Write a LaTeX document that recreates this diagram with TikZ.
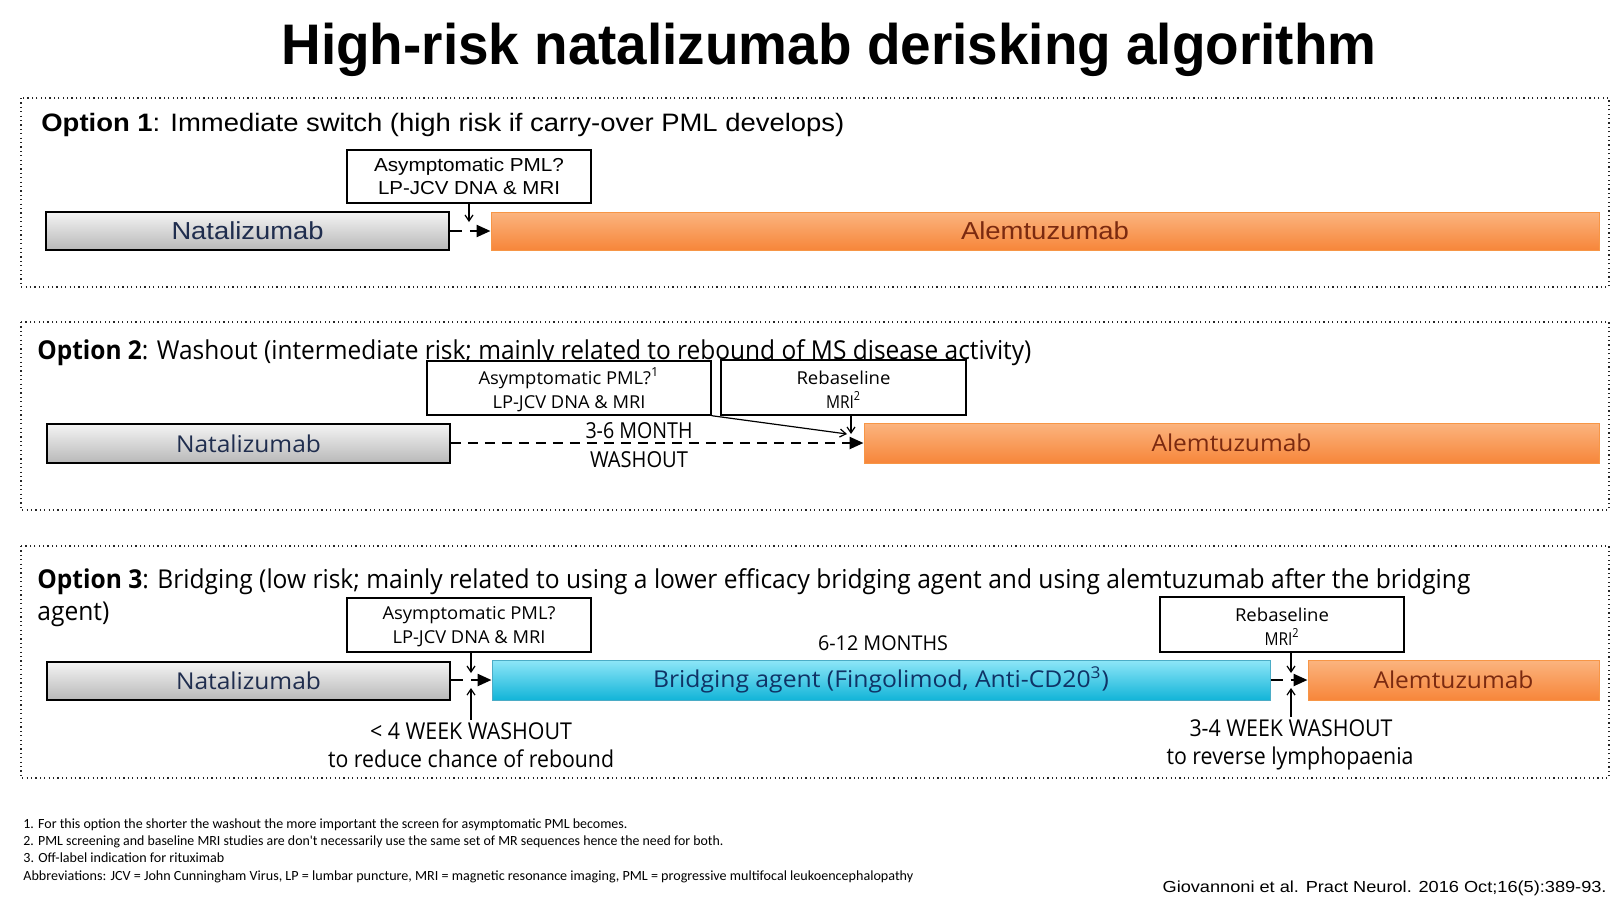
\documentclass[tikz,border=0pt]{standalone}
\usepackage{fontspec}
\usepackage{graphicx}
\usetikzlibrary{arrows.meta,fit,calc}
\setmainfont{Open Sans}
\newfontfamily\arialf{Liberation Sans}
\newfontfamily\notef{Carlito}
\newlength\fwlen
\newcommand\fitw[2]{\settowidth\fwlen{#2}\pgfmathsetmacro\fwfac{#1/\fwlen}\scalebox{\fwfac}[1]{#2}}
\definecolor{navy}{HTML}{1F2D4E}
\definecolor{alemtxt}{HTML}{7B2A10}
\definecolor{bridgetxt}{HTML}{0F3366}
\definecolor{orTop}{HTML}{FBB47F}
\definecolor{orBot}{HTML}{F7863A}
\definecolor{orLine}{HTML}{F79646}
\definecolor{cyTop}{HTML}{8EE6F8}
\definecolor{cyBot}{HTML}{12B4D8}
\definecolor{cyLine}{HTML}{4BACC6}
\definecolor{grTop}{HTML}{F4F4F4}
\definecolor{grBot}{HTML}{B8B8B8}
\tikzset{
  natbar/.style={draw=black, line width=0.8pt, top color=grTop, bottom color=grBot, inner sep=0pt, text=navy},
  alembar/.style={draw=orLine, line width=0.5pt, top color=orTop, bottom color=orBot, inner sep=0pt, text=alemtxt},
  bridgebar/.style={draw=cyLine, line width=0.5pt, top color=cyTop, bottom color=cyBot, inner sep=0pt, text=bridgetxt},
  infobox/.style={draw=black, line width=0.7pt, fill=white, inner sep=0pt, align=center},
  frame/.style={draw=black!85, line width=0.6pt, dash pattern=on 0.6pt off 1.6pt},
  dasharrow/.style={line width=1.2pt, dash pattern=on 6pt off 4pt, -{Triangle[length=7pt,width=6pt]}},
  longdash/.style={line width=1.2pt, dash pattern=on 5pt off 3.5pt, -{Triangle[length=7pt,width=6pt]}},
  thinarrow/.style={line width=0.6pt, -{Straight Barb[length=3pt,width=4pt]}},
  plain/.style={inner sep=0pt},
  optA/.style={font=\arialf\fontsize{12.6}{15}\selectfont},
  optB/.style={font=\fontsize{13}{16}\selectfont},
  boxA/.style={font=\arialf\fontsize{9.4}{11.5}\selectfont},
  boxB/.style={font=\fontsize{8.9}{12}\selectfont},
  barA/.style={font=\arialf\fontsize{12.3}{14}\selectfont},
  barB/.style={font=\fontsize{11.6}{14}\selectfont},
  labB/.style={font=\fontsize{11}{14}\selectfont, inner sep=1pt},
  note/.style={font=\notef\fontsize{7}{8}\selectfont, anchor=base west, inner sep=0pt}
}
\begin{document}
\begin{tikzpicture}[x=0.5pt,y=-0.5pt]
\useasboundingbox (0,0) rectangle (1623,901);
\fill[white] (0,0) rectangle (1623,901);

% title
\node[plain, anchor=base, font=\arialf\bfseries\fontsize{28.6}{32}\selectfont] (title) at (829,64)
  {\fitw{547.5pt}{High-risk natalizumab derisking algorithm}};

% frames
\draw[frame] (21,98) rectangle (1609,287);
\draw[frame] (21,322) rectangle (1609,510);
\draw[frame] (21,546) rectangle (1609,778);

% ---------- Option 1
\node[plain, optA, anchor=base west] (h1) at (41,131)
  {\fitw{401.5pt}{\textbf{Option 1}: Immediate switch (high risk if carry-over PML develops)}};
\node[infobox, boxA, fit={(347,150)(591,203)}] (pml1) {};
\node[boxA, align=center] at (pml1.center) {\fitw{95pt}{Asymptomatic PML?}\\\fitw{91pt}{LP-JCV DNA \& MRI}};
\node[natbar, barA, fit={(46,212)(449,250)}] (nat1) {};
\node[barA, text=navy] at (nat1.center) {\fitw{76pt}{Natalizumab}};
\node[alembar, barA, fit={(491,212)(1599,250)}] (alem1) {};
\node[barA, text=alemtxt] at (alem1.center) {\fitw{84pt}{Alemtuzumab}};
\draw[dasharrow] (nat1.east) -- (alem1.west);
\coordinate (t1) at (469,222);
\draw[thinarrow] (pml1.south -| t1) -- (t1);

% ---------- Option 2
\node[plain, optB, anchor=base west] (h2) at (37,359)
  {\fitw{497pt}{\textbf{Option 2}: Washout (intermediate risk; mainly related to rebound of MS disease activity)}};
\node[natbar, barB, fit={(47,424)(450,463)}] (nat2) {};
\node[barB, text=navy] at (nat2.center) {\fitw{72.5pt}{Natalizumab}};
\node[alembar, barB, fit={(864,423)(1599,463)}] (alem2) {};
\node[barB, text=alemtxt] at (alem2.center) {\fitw{80pt}{Alemtuzumab}};
\node[infobox, fit={(427,361)(711,415)}] (pml2) {};
\node[boxB, align=center] at ($(pml2.center)+(0,2)$) {\fitw{90.5pt}{Asymptomatic PML?\textsuperscript{1}}\\\fitw{76.5pt}{LP-JCV DNA \& MRI}};
\node[infobox, fit={(721,360)(966,415)}] (reb2) {};
\node[boxB, align=center] at ($(reb2.center)+(0,2)$) {\fitw{47pt}{Rebaseline}\\\fitw{17.5pt}{MRI\textsuperscript{2}}};
\draw[longdash] (nat2.east |- alem2.west) -- (alem2.west);
\node[labB, anchor=base] (m36) at (639,438) {\fitw{53.5pt}{3-6 MONTH}};
\node[labB, anchor=base] (wo2) at (639,467) {\fitw{49pt}{WASHOUT}};
\coordinate (d2) at (847,434);
\draw[line width=0.6pt, -{Straight Barb[length=3pt,width=4pt]}] (pml2.south east) -- (d2);
\coordinate (r2) at (851,434);
\draw[thinarrow] (reb2.south -| r2) -- (r2);

% ---------- Option 3
\node[plain, optB, anchor=base west] (h3) at (37,588)
  {\fitw{716.5pt}{\textbf{Option 3}: Bridging (low risk; mainly related to using a lower efficacy bridging agent and using alemtuzumab after the bridging}};
\node[plain, optB, anchor=base west] (h3b) at (37,620) {\fitw{36pt}{agent)}};
\node[natbar, barB, fit={(47,662)(450,700)}] (nat3) {};
\node[barB, text=navy] at (nat3.center) {\fitw{72.5pt}{Natalizumab}};
\node[bridgebar, barB, fit={(492,660)(1270,700)}] (bridge) {};
\node[barB, text=bridgetxt] at (bridge.center) {\fitw{228pt}{Bridging agent (Fingolimod, Anti-CD20\textsuperscript{3})}};
\node[alembar, barB, fit={(1308,660)(1599,700)}] (alem3) {};
\node[barB, text=alemtxt] at (alem3.center) {\fitw{80pt}{Alemtuzumab}};
\node[infobox, fit={(347,598)(591,652)}] (pml3) {};
\node[boxB, align=center] at ($(pml3.center)+(0,2)$) {\fitw{86.5pt}{Asymptomatic PML?}\\\fitw{76.5pt}{LP-JCV DNA \& MRI}};
\node[infobox, fit={(1160,597)(1404,652)}] (reb3) {};
\node[boxB, align=center] at ($(reb3.center)+(0,2)$) {\fitw{47pt}{Rebaseline}\\\fitw{17.5pt}{MRI\textsuperscript{2}}};
\node[labB, anchor=base, font=\fontsize{10.2}{12}\selectfont] (m612) at (883,650) {\fitw{65pt}{6-12 MONTHS}};
\draw[dasharrow] (nat3.east |- bridge.west) -- (bridge.west);
\draw[dasharrow] (bridge.east) -- (alem3.west);
\node[labB, anchor=base, font=\fontsize{11.6}{14}\selectfont] (wk1) at (471,739) {\fitw{101pt}{< 4 WEEK WASHOUT}};
\node[labB, anchor=base, font=\fontsize{11.6}{14}\selectfont] (rb1) at (471,767) {\fitw{143pt}{to reduce chance of rebound}};
\node[labB, anchor=base, font=\fontsize{11.6}{14}\selectfont] (wk2) at (1291,736) {\fitw{101.5pt}{3-4 WEEK WASHOUT}};
\node[labB, anchor=base, font=\fontsize{11.6}{14}\selectfont] (rb2) at (1290,764) {\fitw{123.5pt}{to reverse lymphopaenia}};
\coordinate (d3) at (471,673);
\coordinate (u3) at (471,688);
\draw[thinarrow] (pml3.south -| d3) -- (d3);
\draw[thinarrow] (wk1.north) -- (u3);
\coordinate (d4) at (1291,673);
\coordinate (u4) at (1291,688);
\draw[thinarrow] (reb3.south -| d4) -- (d4);
\draw[thinarrow] (wk2.north) -- (u4);

% ---------- footnotes
\node[note] (f1) at (23,828) {\fitw{302pt}{1. For this option the shorter the washout the more important the screen for asymptomatic PML becomes.}};
\node[note] (f2) at (23,845) {\fitw{350pt}{2. PML screening and baseline MRI studies are don't necessarily use the same set of MR sequences hence the need for both.}};
\node[note] (f3) at (23,862) {\fitw{100.5pt}{3. Off-label indication for rituximab}};
\node[note] (f4) at (23,880) {\fitw{445pt}{Abbreviations: JCV = John Cunningham Virus, LP = lumbar puncture, MRI = magnetic resonance imaging, PML = progressive multifocal leukoencephalopathy}};
\node[plain, anchor=base east, font=\arialf\fontsize{8}{10}\selectfont] (cite) at (1607,892)
  {\fitw{222pt}{Giovannoni et al. Pract Neurol. 2016 Oct;16(5):389-93.}};
\end{tikzpicture}
\end{document}
